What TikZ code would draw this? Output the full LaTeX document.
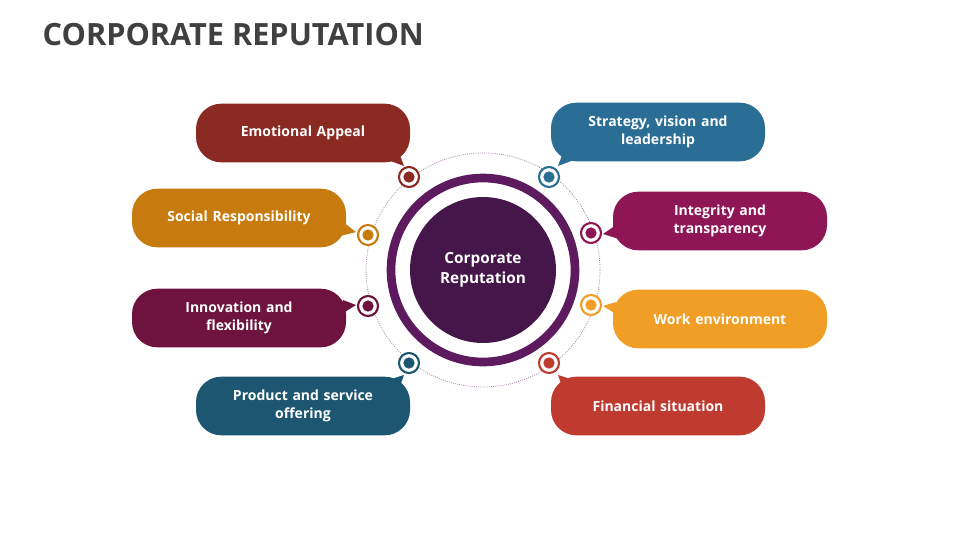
\documentclass[tikz,border=0pt]{standalone}
\usepackage{fontspec}
\setmainfont{Open Sans}
\begin{document}
\begin{tikzpicture}[x=0.75pt,y=-0.75pt,
  bubble/.style={rounded corners=19pt,minimum width=160.5pt,minimum height=44pt,text width=140pt,align=center,text=white,font=\fontsize{10.5}{13}\selectfont\bfseries,inner sep=0pt},
  marker/.style={circle,draw=#1,line width=1.6pt,fill=white,minimum size=15pt,inner sep=0pt},
  dotc/.style={circle,fill=#1,minimum size=8.5pt,inner sep=0pt}]
\definecolor{cA}{HTML}{8B2A22}\definecolor{cB}{HTML}{2A6E96}
\definecolor{cC}{HTML}{C77A0D}\definecolor{cD}{HTML}{8E1656}
\definecolor{cE}{HTML}{6E123E}\definecolor{cF}{HTML}{F09E26}
\definecolor{cG}{HTML}{1D5670}\definecolor{cH}{HTML}{BF3A2F}
\definecolor{ring}{HTML}{5E1A5E}\definecolor{core}{HTML}{45164A}
\useasboundingbox (0,0) rectangle (960,540);
\node[anchor=west,text=black!75,font=\fontsize{23}{27}\selectfont\bfseries] (title) at (38,35) {CORPORATE REPUTATION};
\draw[ring!60,densely dotted,line width=0.6pt] (483,270) circle (117);
\draw[ring,line width=6.5pt] (483,270) circle (92);
\node[circle,fill=core,minimum size=109.5pt,text=white,align=center,font=\fontsize{11.5}{15}\selectfont\bfseries] (core) at (483,270) {Corporate\\Reputation};
% bubbles
\node[bubble,fill=cA] (a) at (303,133) {Emotional Appeal};
\node[bubble,fill=cB] (b) at (658,132) {Strategy, vision and\\leadership};
\node[bubble,fill=cC] (c) at (239,218) {Social Responsibility};
\node[bubble,fill=cD] (d) at (720,221) {Integrity and\\transparency};
\node[bubble,fill=cE] (e) at (239,318) {Innovation and\\flexibility};
\node[bubble,fill=cF] (f) at (720,319) {Work environment};
\node[bubble,fill=cG] (g) at (303,406) {Product and service\\offering};
\node[bubble,fill=cH] (h) at (658,406) {Financial situation};
% tails
\fill[cA] (388,160) -- (404,166) -- (398,150) -- cycle;
\fill[cB] (574,160) -- (558,166) -- (564,150) -- cycle;
\fill[cC] (343,222) -- (356,232) -- (340,236) -- cycle;
\fill[cD] (616,225) -- (603,234) -- (619,239) -- cycle;
\fill[cE] (343,300) -- (356,305) -- (340,315) -- cycle;
\fill[cF] (616,302) -- (603,306) -- (619,316) -- cycle;
\fill[cG] (388,380) -- (404,375) -- (398,392) -- cycle;
\fill[cH] (574,380) -- (558,375) -- (564,392) -- cycle;
% markers
\foreach \n/\c/\x/\y in {ma/cA/409/177,mb/cB/549/177,mc/cC/368/235,md/cD/591/233,me/cE/368/306,mf/cF/591/305,mg/cG/409/363,mh/cH/549/363}{
  \node[marker=\c] (\n) at (\x,\y) {};
  \node[dotc=\c] (\n d) at (\n) {};
}
\end{tikzpicture}
\end{document}
